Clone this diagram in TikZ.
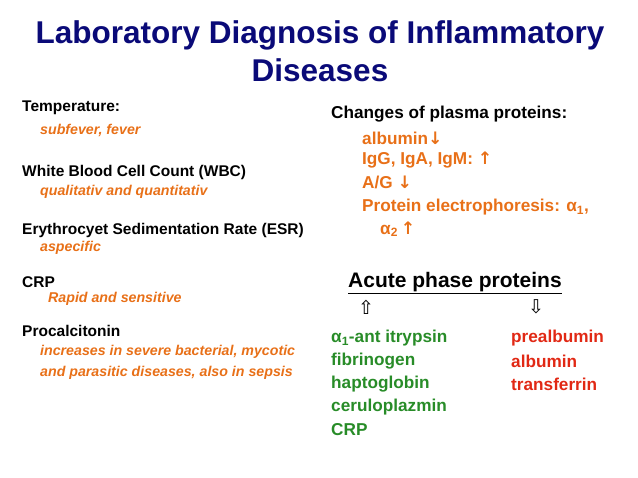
\documentclass[tikz,border=0pt]{standalone}
\usepackage{fontspec}
\setmainfont{Liberation Sans}
\newfontfamily\arrowfont{DejaVu Sans}
\usepackage{xcolor}
\definecolor{titleblue}{RGB}{10,10,120}
\definecolor{slideorange}{RGB}{232,112,24}
\definecolor{slidegreen}{RGB}{40,140,40}
\definecolor{slidered}{RGB}{225,40,20}
\newcommand{\arr}[1]{{\arrowfont #1}}
\begin{document}
\begin{tikzpicture}[x=1pt,y=1pt]
		\tikzstyle{every node}+=[inner sep=0pt,anchor=west]
		\tikzstyle{head}=[font=\fontsize{15.5}{17}\selectfont\bfseries]
		\tikzstyle{note}=[font=\fontsize{14.2}{16}\selectfont\bfseries\itshape,text=slideorange]
		\tikzstyle{change}=[font=\fontsize{17.2}{19}\selectfont\bfseries,text=slideorange]
		\tikzstyle{up}=[font=\fontsize{17.2}{19}\selectfont\bfseries,text=slidegreen]
		\tikzstyle{dn}=[font=\fontsize{17.2}{19}\selectfont\bfseries,text=slidered]
		\useasboundingbox (0,0) rectangle (638,-478);
		% title
		\node[anchor=center,align=center,text=titleblue,font=\fontsize{31.5}{38}\selectfont\bfseries] (title) at (320,-51) {Laboratory Diagnosis of Inflammatory\\Diseases};
		% left column
		\node[head] (temp) at (22,-108) {Temperature:};
		\node[note] (tempn) at (40,-130) {subfever, fever};
		\node[head] (wbc) at (22,-172) {White Blood Cell Count (WBC)};
		\node[note] (wbcn) at (40,-192) {qualitativ and quantitativ};
		\node[head] (esr) at (22,-230) {Erythrocyet Sedimentation Rate (ESR)};
		\node[note] (esrn) at (40,-248) {aspecific};
		\node[head] (crp) at (22,-282) {CRP};
		\node[note] (crpn) at (48,-299) {Rapid and sensitive};
		\node[head] (pct) at (22,-331) {Procalcitonin};
		\node[note] (pcta) at (40,-352) {increases in severe bacterial, mycotic};
		\node[note] (pctb) at (40,-373) {and parasitic diseases, also in sepsis};
		% right column
		\node[font=\fontsize{17.2}{19}\selectfont\bfseries] (plasma) at (331,-114) {Changes of plasma proteins:};
		\node[change] (alb) at (362,-138) {albumin\arr{↓}};
		\node[change] (ig) at (362,-160) {IgG, IgA, IgM: \arr{↑}};
		\node[change] (ag) at (362,-182) {A/G \arr{↓}};
		\node[change] (elph) at (362,-207) {Protein electrophoresis: α\textsubscript{1},};
		\node[change] (elpt) at (380,-229) {α\textsubscript{2}\,\arr{↑}};
		\node[font=\fontsize{21}{24}\selectfont\bfseries] (acute) at (348,-283) {\underline{Acute phase proteins}};
		\node[font=\fontsize{19}{21}\selectfont\arrowfont] (uparr) at (358,-307) {⇧};
		\node[font=\fontsize{19}{21}\selectfont\arrowfont] (dnarr) at (528,-307) {⇩};
		\node[up] (aat) at (331,-338) {α\textsubscript{1}-ant itrypsin};
		\node[up] (fib) at (331,-361) {fibrinogen};
		\node[up] (hap) at (331,-384) {haptoglobin};
		\node[up] (cer) at (331,-407) {ceruloplazmin};
		\node[up] (crpg) at (331,-430) {CRP};
		\node[dn] (pre) at (511,-338) {prealbumin};
		\node[dn] (albr) at (511,-361) {albumin};
		\node[dn] (tra) at (511,-384) {transferrin};
	\end{tikzpicture}
\end{document}
